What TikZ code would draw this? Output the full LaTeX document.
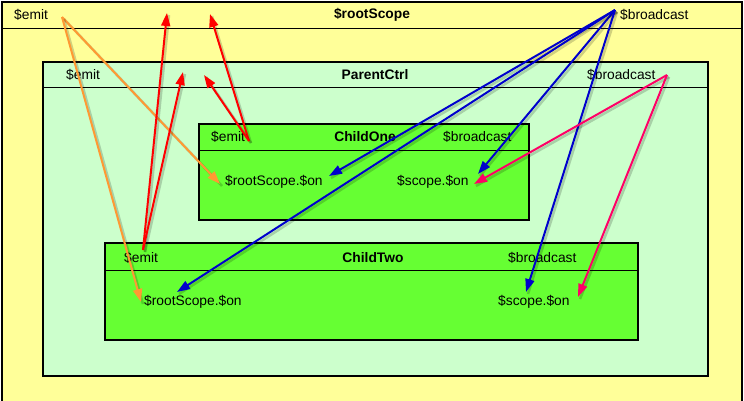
\documentclass[tikz,border=0pt]{standalone}
\usepackage{fontspec}
\setmainfont{Liberation Sans}
\usetikzlibrary{arrows.meta}
\definecolor{rootfill}{HTML}{FFFF99}
\definecolor{parentfill}{HTML}{CCFFCC}
\definecolor{childfill}{HTML}{66FF33}
\definecolor{emitorange}{HTML}{FF9933}
\definecolor{emitred}{HTML}{FF0000}
\definecolor{bcblue}{HTML}{0000CC}
\definecolor{bcpink}{HTML}{FF0066}
\tikzset{
  scopebox/.style={draw=black, line width=2pt},
  sepline/.style={draw=black, line width=0.8pt},
  lbl/.style={inner sep=0pt, anchor=west, font=\fontsize{13.8}{15}\selectfont},
  ttl/.style={inner sep=0pt, anchor=center, font=\fontsize{13.8}{15}\selectfont\bfseries},
  conn/.style={line width=2pt, -{Triangle[length=13pt,width=9pt]},
    preaction={draw=black, draw opacity=0.18, line width=2.5pt, -,
      transform canvas={shift={(2pt,-2pt)}}}},
}
\begin{document}
\begin{tikzpicture}[x=1pt,y=-1pt]
\useasboundingbox (0,0) rectangle (744,400);
\clip (0,0) rectangle (744,400);
% rootScope
\fill[white] (0,0) rectangle (744,400);
\draw[scopebox, fill=rootfill] (2,2) rectangle (742,430);
\draw[sepline] (2,28) -- (742,28);
\node[lbl] (rsemit) at (14,15) {\$emit};
\node[ttl] (rstitle) at (372,15) {\$rootScope};
\node[lbl] (rsbc) at (620,15) {\$broadcast};
% ParentCtrl
\draw[scopebox, fill=parentfill] (43,62) rectangle (708,376);
\draw[sepline] (43,87) -- (708,87);
\node[lbl] (pemit) at (66,75) {\$emit};
\node[ttl] (ptitle) at (375,75) {ParentCtrl};
\node[lbl] (pbc) at (587,75) {\$broadcast};
% ChildOne
\draw[scopebox, fill=childfill] (199,124) rectangle (529,220);
\draw[sepline] (199,150) -- (529,150);
\node[lbl] (c1emit) at (211,137) {\$emit};
\node[ttl] (c1title) at (365,137) {ChildOne};
\node[lbl] (c1bc) at (443,137) {\$broadcast};
\node[lbl] (c1rson) at (225,182) {\$rootScope.\$on};
\node[lbl] (c1son) at (397,182) {\$scope.\$on};
% ChildTwo
\draw[scopebox, fill=childfill] (105,243) rectangle (638,340);
\draw[sepline] (105,270) -- (638,270);
\node[lbl] (c2emit) at (124,258) {\$emit};
\node[ttl] (c2title) at (373,258) {ChildTwo};
\node[lbl] (c2bc) at (508,258) {\$broadcast};
\node[lbl] (c2rson) at (144,302) {\$rootScope.\$on};
\node[lbl] (c2son) at (498,302) {\$scope.\$on};
% connector end points
\coordinate (rsemitpt) at (62,17);
\coordinate (rsbcpt) at (615,10);
\coordinate (pbcpt) at (667,75);
\coordinate (c1emitpt) at (249,141);
\coordinate (c2emitpt) at (143,250);
\coordinate (rsrecvA) at (167,13);
\coordinate (rsrecvB) at (210,14);
\coordinate (precvA) at (183,72);
\coordinate (precvB) at (204,75);
\coordinate (c1rsin) at (220,184);
\coordinate (c2rsin) at (141,302);
\coordinate (c1rsinb) at (329,176);
\coordinate (c1sinb) at (478,174);
\coordinate (c1sinp) at (474,184);
\coordinate (c2rsinb) at (177,292);
\coordinate (c2sinb) at (526,292);
\coordinate (c2sinp) at (578,297);
% orange: rootScope $emit received by $rootScope.$on
\draw[conn, emitorange] (rsemitpt) -- (c1rsin);
\draw[conn, emitorange] (rsemitpt) -- (c2rsin);
% red: $emit going up
\draw[conn, emitred] (c1emitpt) -- (rsrecvB);
\draw[conn, emitred] (c1emitpt) -- (precvB);
\draw[conn, emitred] (c2emitpt) -- (rsrecvA);
\draw[conn, emitred] (c2emitpt) -- (precvA);
% blue: rootScope $broadcast
\draw[conn, bcblue] (rsbcpt) -- (c1rsinb);
\draw[conn, bcblue] (rsbcpt) -- (c1sinb);
\draw[conn, bcblue] (rsbcpt) -- (c2rsinb);
\draw[conn, bcblue] (rsbcpt) -- (c2sinb);
% pink: ParentCtrl $broadcast
\draw[conn, bcpink] (pbcpt) -- (c1sinp);
\draw[conn, bcpink] (pbcpt) -- (c2sinp);
\end{tikzpicture}
\end{document}
